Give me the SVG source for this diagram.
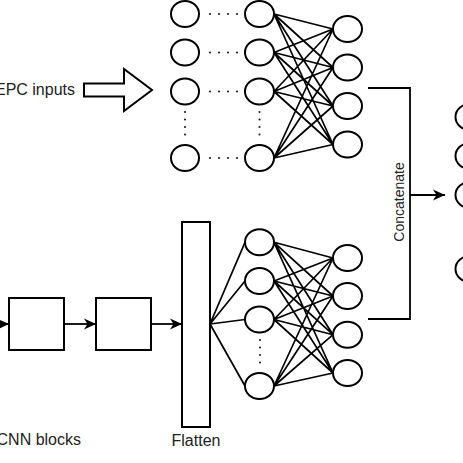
<svg xmlns="http://www.w3.org/2000/svg" width="463" height="463" viewBox="0 0 463 463">
<style>
.n{fill:#fff;stroke:#000;stroke-width:2}
.e{fill:none;stroke:#000;stroke-width:1.8}
.w{fill:none;stroke:#000;stroke-width:1.7}
.d{fill:#222}
.t{font-family:"Liberation Sans",Arial,sans-serif;font-size:16px;fill:#222}
.r{fill:#fff;stroke:#000;stroke-width:2}
</style>
<defs>
<marker id="ah" markerWidth="14" markerHeight="12" refX="12" refY="6" orient="auto" markerUnits="userSpaceOnUse">
<path d="M0,0.5 L12,6 L0,11.5 L3.5,6 Z" fill="#000"/>
</marker>
<g id="dh"><circle cx="0" cy="0" r="1.1"/><circle cx="9" cy="0" r="1.1"/><circle cx="18" cy="0" r="1.1"/><circle cx="27" cy="0" r="1.1"/></g>
<g id="dv"><circle cx="0" cy="0" r="1.1"/><circle cx="0" cy="7.5" r="1.1"/><circle cx="0" cy="15" r="1.1"/><circle cx="0" cy="22.5" r="1.1"/></g>
</defs>

<g id="connectors">
<path class="w" d="M274,14 L333,29 M274,14 L333,67.5 M274,14 L333,106 M274,14 L333,144.5
M274,52.5 L333,29 M274,52.5 L333,67.5 M274,52.5 L333,106 M274,52.5 L333,144.5
M274,91.5 L333,29 M274,91.5 L333,67.5 M274,91.5 L333,106 M274,91.5 L333,144.5
M274,158 L333,29 M274,158 L333,67.5 M274,158 L333,106 M274,158 L333,144.5"/>
<path class="w" d="M274,242.3 L333,258 M274,242.3 L333,296 M274,242.3 L333,334.7 M274,242.3 L333,373
M274,281 L333,258 M274,281 L333,296 M274,281 L333,334.7 M274,281 L333,373
M274,319.5 L333,258 M274,319.5 L333,296 M274,319.5 L333,334.7 M274,319.5 L333,373
M274,386 L333,258 M274,386 L333,296 M274,386 L333,334.7 M274,386 L333,373"/>
<path class="w" d="M210,324 L245,242.3 M210,324 L245,281 M210,324 L245,319.5 M210,324 L245,386"/>
<path class="e" d="M-4,324 L9,324" marker-end="url(#ah)"/>
<path class="e" d="M64,324 L96,324" marker-end="url(#ah)"/>
<path class="e" d="M151,324 L182,324" marker-end="url(#ah)"/>
<path class="e" d="M368,88 L410,88 L410,319 L368,319"/>
<path class="e" d="M410,195 L445,195" marker-end="url(#ah)"/>
</g>

<g id="epc-arrow">
<polygon points="84,83.5 124,83.5 124,69 152,90 124,111 124,96.5 84,96.5" fill="#fff" stroke="#000" stroke-width="2"/>
</g>
<g id="label-epc"><text class="t" x="75" y="95" text-anchor="end">EPC inputs</text></g>

<g id="top-col1">
<ellipse class="n" cx="185" cy="14" rx="14" ry="13"/>
<ellipse class="n" cx="185" cy="52.5" rx="14" ry="13"/>
<ellipse class="n" cx="185" cy="91.5" rx="14" ry="13"/>
<ellipse class="n" cx="185" cy="158" rx="14" ry="13"/>
</g>
<g id="top-dots" class="d">
<use href="#dh" x="210" y="14"/>
<use href="#dh" x="210" y="52.5"/>
<use href="#dh" x="210" y="91.5"/>
<use href="#dh" x="210" y="158"/>
<use href="#dv" x="185" y="112"/>
<use href="#dv" x="259.5" y="112"/>
</g>
<g id="top-col2">
<ellipse class="n" cx="259.5" cy="14" rx="14.5" ry="13"/>
<ellipse class="n" cx="259.5" cy="52.5" rx="14.5" ry="13"/>
<ellipse class="n" cx="259.5" cy="91.5" rx="14.5" ry="13"/>
<ellipse class="n" cx="259.5" cy="158" rx="14.5" ry="13"/>
</g>
<g id="top-hidden">
<ellipse class="n" cx="347.5" cy="29" rx="14.5" ry="13"/>
<ellipse class="n" cx="347.5" cy="67.5" rx="14.5" ry="13"/>
<ellipse class="n" cx="347.5" cy="106" rx="14.5" ry="13"/>
<ellipse class="n" cx="347.5" cy="144.5" rx="14.5" ry="13"/>
</g>

<g id="cnn-block-1"><rect class="r" x="9" y="298" width="55" height="52"/></g>
<g id="cnn-block-2"><rect class="r" x="96" y="298" width="55" height="52"/></g>
<g id="label-cnn"><text class="t" x="81" y="445" text-anchor="end">CNN blocks</text></g>
<g id="flatten"><rect class="r" x="182" y="222" width="28" height="205"/></g>
<g id="label-flatten"><text class="t" x="196" y="446" text-anchor="middle">Flatten</text></g>

<g id="bottom-col">
<ellipse class="n" cx="259.5" cy="242.3" rx="14.5" ry="13"/>
<ellipse class="n" cx="259.5" cy="281" rx="14.5" ry="13"/>
<ellipse class="n" cx="259.5" cy="319.5" rx="14.5" ry="13"/>
<ellipse class="n" cx="259.5" cy="386" rx="14.5" ry="13"/>
</g>
<g id="bottom-dots" class="d"><use href="#dv" x="260" y="340"/></g>
<g id="bottom-hidden">
<ellipse class="n" cx="347.5" cy="258" rx="14.5" ry="13"/>
<ellipse class="n" cx="347.5" cy="296" rx="14.5" ry="13"/>
<ellipse class="n" cx="347.5" cy="334.7" rx="14.5" ry="13"/>
<ellipse class="n" cx="347.5" cy="373" rx="14.5" ry="13"/>
</g>

<g id="label-concatenate"><text x="0" y="0" transform="translate(403.5,202) rotate(-90)" text-anchor="middle" style="font-family:'Liberation Sans',Arial,sans-serif;font-size:14px;fill:#222">Concatenate</text></g>

<g id="output-col">
<ellipse class="n" cx="470" cy="117" rx="14.5" ry="13"/>
<ellipse class="n" cx="470" cy="156" rx="14.5" ry="13"/>
<ellipse class="n" cx="470" cy="195" rx="14.5" ry="13"/>
<ellipse class="n" cx="470" cy="269" rx="14.5" ry="13"/>
</g>
</svg>
